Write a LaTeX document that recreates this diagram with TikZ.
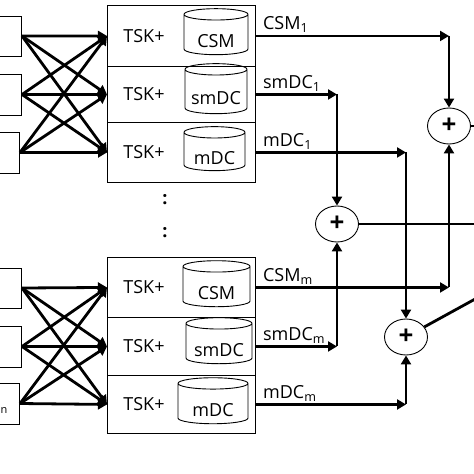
\documentclass[tikz,border=0pt]{standalone}
\usepackage{fontspec}
\setmainfont{Open Sans}
\usetikzlibrary{shapes.geometric,arrows.meta,positioning}
\tikzset{
  arr/.style={line width=2.8pt,-{Triangle[length=9pt,width=10pt]}},
  wire/.style={line width=2.8pt},
  inbox/.style={draw,line width=0.9pt,minimum width=60pt,anchor=east},
  row/.style={draw,line width=0.9pt,minimum width=148pt,anchor=north west},
  db/.style={draw,cylinder,shape border rotate=90,aspect=1.7,line width=0.9pt},
  sum/.style={draw,ellipse,line width=0.9pt,minimum width=43pt,minimum height=36pt,inner sep=0pt,font=\bfseries\fontsize{26}{26}\selectfont},
  lbl/.style={anchor=south west,inner sep=1pt},
}
\begin{document}
\begin{tikzpicture}[x=1pt,y=-1pt,font=\fontsize{18}{21}\selectfont]
 \useasboundingbox[fill=white] (0,0) rectangle (474,474);

 % inputs
 \node[inbox,minimum height=40pt] (in1) at (22,36) {};
 \node[inbox,minimum height=41pt] (in2) at (22,94.5) {};
 \node[inbox,minimum height=41pt] (in3) at (20,152.5) {};
 \node[inbox,minimum height=40pt] (in4) at (22,288) {};
 \node[inbox,minimum height=41pt] (in5) at (22,346.5) {};
 \node[inbox,minimum height=41pt] (in6) at (20,403.5) {};
 \node[anchor=west,inner sep=0pt,font=\fontsize{11}{11}\selectfont] (in6txt) at (0.5,410) {n};

 % stacked rows
 \node[row,minimum height=61pt] (r1) at (107,5) {};
 \node[row,minimum height=56pt] (r2) at (107,66) {};
 \node[row,minimum height=60pt] (r3) at (107,122) {};
 \node[row,minimum height=60pt] (r4) at (107,257) {};
 \node[row,minimum height=58pt] (r5) at (107,317) {};
 \node[row,minimum height=58pt] (r6) at (107,375) {};

 \foreach \r in {1,...,6}
  \node (t\r) at ([xshift=37pt]r\r.west) {TSK+};

 \node[db,minimum width=64pt,minimum height=46pt] (c1) at (216,36) {};
 \node[db,minimum width=62pt,minimum height=50pt] (c2) at (216,93) {};
 \node[db,minimum width=61pt,minimum height=44pt] (c3) at (214.5,153) {};
 \node[db,minimum width=67pt,minimum height=46pt] (c4) at (216.5,288) {};
 \node[db,minimum width=66pt,minimum height=46pt] (c5) at (219,345) {};
 \node[db,minimum width=70pt,minimum height=46pt] (c6) at (213,405) {};
 \node (c1txt) at ([yshift=-5pt]c1.center) {CSM};
 \node (c2txt) at ([yshift=-5pt]c2.center) {smDC};
 \node (c3txt) at ([yshift=-5pt]c3.center) {mDC};
 \node (c4txt) at ([yshift=-5pt]c4.center) {CSM};
 \node (c5txt) at ([yshift=-5pt]c5.center) {smDC};
 \node (c6txt) at ([yshift=-5pt]c6.center) {mDC};

 \node[font=\bfseries\fontsize{18}{18}\selectfont] (d1) at (165,200) {:};
 \node[font=\bfseries\fontsize{18}{18}\selectfont] (d2) at (165,233) {:};

 % fully connected inputs
 \foreach \a in {1,2,3}
  \foreach \b in {1,2,3}
   \draw[arr] (in\a.east) -- (r\b.west);
 \foreach \a in {4,5,6}
  \foreach \b in {4,5,6}
   \draw[arr] (in\a.east) -- (r\b.west);

 % summing nodes
 \node[sum] (p1) at (449,126) {+};
 \node[sum] (p2) at (337,224) {+};
 \node[sum] (p3) at (406,337) {+};

 \coordinate (k1) at (r1.east -| p1);
 \coordinate (k2) at (r2.east -| p2);
 \coordinate (k3) at (r3.east -| p3);
 \coordinate (k4) at (r4.east -| p1);
 \coordinate (k5) at (r5.east -| p2);
 \coordinate (k6) at (r6.east -| p3);

 \draw[arr] (r1.east) -- (k1);
 \draw[arr] (k1) -- (p1.north);
 \draw[arr] (r2.east) -- (k2);
 \draw[arr] (k2) -- (p2.north);
 \draw[arr] (r3.east) -- (k3);
 \draw[arr] (k3) -- (p3.north);
 \draw[arr] (r4.east) -- (k4);
 \draw[arr] (k4) -- (p1.south);
 \draw[arr] (r5.east) -- (k5);
 \draw[arr] (k5) -- (p2.south);
 \draw[arr] (r6.east) -- (k6);
 \draw[arr] (k6) -- (p3.south);

 \node[lbl] (l1) at ([xshift=6pt,yshift=2pt]r1.east) {CSM\textsubscript{1}};
 \node[lbl] (l2) at ([xshift=6pt,yshift=2pt]r2.east) {smDC\textsubscript{1}};
 \node[lbl] (l3) at ([xshift=6pt,yshift=2pt]r3.east) {mDC\textsubscript{1}};
 \node[lbl] (l4) at ([xshift=6pt,yshift=2pt]r4.east) {CSM\textsubscript{m}};
 \node[lbl] (l5) at ([xshift=6pt,yshift=2pt]r5.east) {smDC\textsubscript{m}};
 \node[lbl] (l6) at ([xshift=6pt,yshift=2pt]r6.east) {mDC\textsubscript{m}};

 % outputs
 \coordinate (o1) at (488,126);
 \coordinate (o2) at (490,224);
 \coordinate (o3) at (497,287);
 \draw[arr] (p1) -- (o1);
 \draw[wire] (p2) -- (o2);
 \draw[wire] (p3) -- (o3);
\end{tikzpicture}
\end{document}
